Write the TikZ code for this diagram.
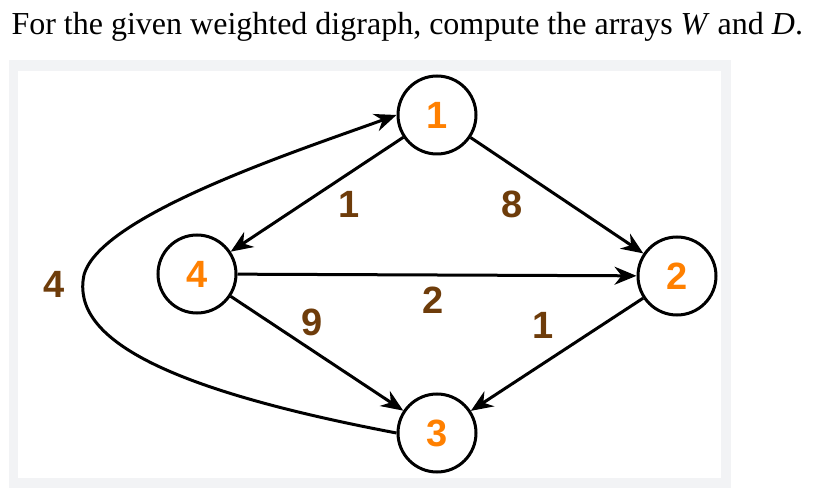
\documentclass[tikz,border=0pt]{standalone}
\usepackage{fontspec}
\setmainfont{Liberation Serif}
\newfontfamily\labelfont{Liberation Sans}
\usetikzlibrary{arrows.meta}
\definecolor{vorange}{RGB}{255,128,0}
\definecolor{wbrown}{RGB}{110,60,10}
\definecolor{framegray}{RGB}{242,243,245}
\tikzset{
    vertex/.style={circle, draw=black, line width=3pt, minimum size=78pt, inner sep=0pt,
        text=vorange, font=\labelfont\bfseries\fontsize{38}{40}\selectfont},
    arc/.style={draw=black, line width=3pt, -{Stealth[length=22pt,width=18pt]}},
    weight/.style={text=wbrown, font=\labelfont\bfseries\fontsize{38}{40}\selectfont}
}
\begin{document}
\begin{tikzpicture}[x=1pt,y=-1pt]
\useasboundingbox (0,0) rectangle (817,494);
\fill[framegray] (9,60) rectangle (731,488);
\fill[white] (18,71) rectangle (721,478);
\node[anchor=base west, font=\fontsize{32}{35}\selectfont] (title) at (8,35)
  {For the given weighted digraph, compute the arrays \textit{W} and \textit{D}.};
% vertices
\node[vertex] (v1) at (437,115) {1};
\node[vertex] (v2) at (677,276) {2};
\node[vertex] (v3) at (437,433) {3};
\node[vertex] (v4) at (197,274) {4};
% arcs
\draw[arc] (v1) -- (v4);
\draw[arc] (v1) -- (v2);
\draw[arc] (v4) -- (v2);
\draw[arc] (v4) -- (v3);
\draw[arc] (v2) -- (v3);
\draw[arc] (v3.west) .. controls (170,390) and (70,340) .. (84,275)
  .. controls (100,215) and (300,150) .. (v1.west);
% weights
\node[weight] (w14) at (349,204) {1};
\node[weight] (w12) at (512,204) {8};
\node[weight] (w42) at (433,300) {2};
\node[weight] (w43) at (312,322) {9};
\node[weight] (w23) at (543,325) {1};
\node[weight] (w31) at (54,284) {4};
\end{tikzpicture}
\end{document}
